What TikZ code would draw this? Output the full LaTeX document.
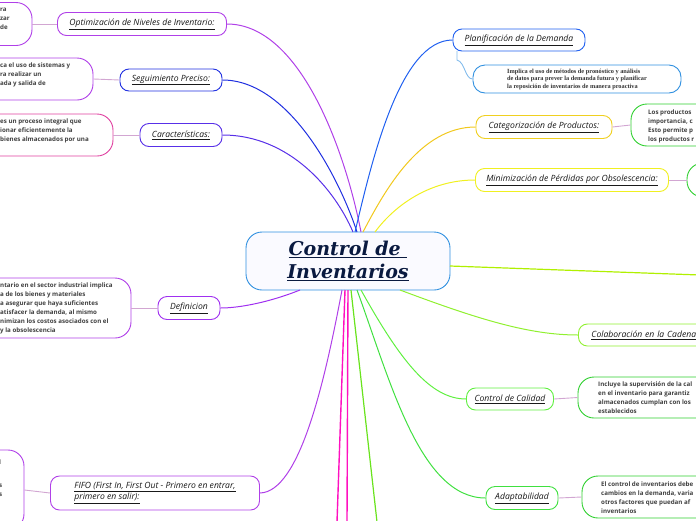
\documentclass[tikz,border=0pt]{standalone}
\usepackage{fontspec}
\setmainfont{Open Sans}
\newfontfamily\serifb{Liberation Serif}
\newfontfamily\titlef{DejaVu Serif}
\begin{document}
\begin{tikzpicture}[x=1pt,y=-1pt,
  lbl/.style={draw,line width=0.9pt,rounded corners=9pt,fill=white,inner sep=0pt,font=\itshape\fontsize{8.6}{10.5}\selectfont,text=black!90},
  det/.style={draw,line width=0.9pt,rounded corners=16pt,fill=white,inner sep=0pt},
  dtxt/.style={anchor=west,inner sep=0pt,font=\bfseries\fontsize{6.2}{9}\selectfont,text=black!75,align=left},
  con/.style={line width=1pt},
  thin/.style={line width=0.9pt,draw=violet!35}]
\useasboundingbox (0,0) rectangle (696,520);
\clip (0,0) rectangle (696,520);
\definecolor{cpur}{HTML}{B040E8}
\definecolor{cblue}{HTML}{2030E0}
\definecolor{cviol}{HTML}{5830E8}
\definecolor{cpur2}{HTML}{A030F0}
\definecolor{cpink}{HTML}{E040A0}
\definecolor{cplan}{HTML}{2060F0}
\definecolor{clblue}{HTML}{3090E0}
\definecolor{cyel1}{HTML}{F0D020}
\definecolor{cyel2}{HTML}{F0F020}
\definecolor{cgreen}{HTML}{30D030}
\definecolor{clime}{HTML}{90F030}
\definecolor{cyg}{HTML}{B0F000}
\definecolor{cg2}{HTML}{60F040}
\definecolor{cg3}{HTML}{40E040}
\definecolor{cmag}{HTML}{FF10C0}
\definecolor{navy}{HTML}{0A1A40}

% central
\node[draw=clblue,line width=0.9pt,rounded corners=16pt,fill=blue!2,minimum width=204pt,minimum height=58pt,align=center,
  font=\titlef\bfseries\itshape\fontsize{19}{23}\selectfont,text=navy] (c) at (348,261) {\underline{Control de }\\\underline{Inventarios}};

% left labels
\node[lbl,draw=cpur,minimum width=169pt,minimum height=23pt] (opt) at (142,24) {\underline{Optimización de Niveles de Inventario:}};
\node[lbl,draw=cblue,minimum width=102pt,minimum height=22pt] (seg) at (171,80) {\underline{Seguimiento Preciso:}};
\node[lbl,draw=cviol,minimum width=82pt,minimum height=23pt] (car) at (181,135) {\underline{Características:}};
\node[lbl,draw=cpur2,minimum width=62pt,minimum height=23pt] (def) at (189,308) {\underline{Definicion}};
\node[lbl,draw=cpur,minimum width=209pt,minimum height=34pt,align=left] (fifo) at (155,493) {\underline{FIFO (First In, First Out - Primero en entrar,}\\\underline{primero en salir):}};

% left details
\node[det,draw=cpur,minimum width=92pt,minimum height=43pt] (dopt) at (-14,24) {};
\node[dtxt] at (0,19) {ra\\zar\\de};
\node[det,draw=cpur,minimum width=153pt,minimum height=42pt] (dseg) at (16.5,79) {};
\node[dtxt] at (0,75) {ca el uso de sistemas y\\ra realizar un\\ada y salida de};
\node[det,draw=cpink,minimum width=173pt,minimum height=42pt] (dcar) at (26.5,135) {};
\node[dtxt] at (0,131) {es un proceso integral que\\ionar eficientemente la\\bienes almacenados por una};
\node[det,draw=cpur,minimum width=191pt,minimum height=60pt] (ddef) at (35.5,308) {};
\node[dtxt] at (0,308.5) {ntario en el sector industrial implica\\a de los bienes y materiales\\a asegurar que haya suficientes\\atisfacer la demanda, al mismo\\nimizan los costos asociados con el\\y la obsolescencia};
\node[det,draw=cpur,minimum width=84pt,minimum height=80pt] (dfifo) at (-18,490) {};
\node[dtxt] at (-1,462) {l};
\node[dtxt] at (-1,490) {s\\s};

% right labels
\node[lbl,draw=cplan,minimum width=132pt,minimum height=22pt] (plan) at (519,40) {\underline{Planificación de la Demanda}};
\node[lbl,draw=cyel1,minimum width=136pt,minimum height=23pt] (cat) at (544,127) {\underline{Categorización de Productos:}};
\node[lbl,draw=cyel2,minimum width=193pt,minimum height=23pt] (min) at (572,180) {\underline{Minimización de Pérdidas por Obsolescencia:}};
\node[lbl,draw=clime,minimum width=200pt,minimum height=22pt,anchor=west,text width=190pt,align=left] (col) at (578,335) {\hspace*{8pt}\underline{Colaboración en la Cadena de Suministro}};
\node[lbl,draw=cg2,minimum width=87pt,minimum height=22pt] (cal) at (510,399) {\underline{Control de Calidad}};
\node[lbl,draw=cg3,minimum width=72pt,minimum height=23pt] (ada) at (522,498) {\underline{Adaptabilidad}};
\coordinate (yg) at (700,275);

% right details
\node[det,draw=clblue,rounded corners=12pt,minimum width=208pt,minimum height=28pt,align=left,
  font=\serifb\bfseries\fontsize{6.3}{7.5}\selectfont,text=black!80] (dplan) at (577,79)
  {Implica el uso de métodos de pronóstico y análisis\\de datos para prever la demanda futura y planificar\\la reposición de inventarios de manera proactiva};
\node[det,draw=cgreen,minimum width=150pt,minimum height=42pt] (dcat) at (706,125) {};
\node[dtxt] at (648,126.5) {Los productos\\importancia, c\\Esto permite p\\los productos r};
\node[det,draw=cgreen,minimum width=150pt,minimum height=34pt] (dmin) at (762,180) {};
\node[det,draw=cgreen,minimum width=180pt,minimum height=41pt] (dcal) at (668,397.5) {};
\node[dtxt] at (598,397.5) {Incluye la supervisión de la cal\\en el inventario para garantiz\\almacenados cumplan con los\\establecidos};
\node[det,draw=cgreen,minimum width=180pt,minimum height=42pt] (dada) at (672,497) {};
\node[dtxt] at (601,497.5) {El control de inventarios debe\\cambios en la demanda, varia\\otros factores que puedan af\\inventarios};

\coordinate (b1) at (337,522);
\coordinate (b2) at (347,522);
\coordinate (b3) at (377,522);

\draw[con,cpur] (opt.east) .. controls (300,24) and (345,150) .. (361,232);
\draw[con,cblue] (seg.east) .. controls (290,80) and (340,180) .. (357,232);
\draw[con,cviol] (car.east) .. controls (290,135) and (335,190) .. (353,232);
\draw[con,cplan] (plan.west) .. controls (400,40) and (372,160) .. (355,232);
\draw[con,cyel1!90!orange] (cat.west) .. controls (420,127) and (385,190) .. (363,232);
\draw[con,cyel2] (min.west) .. controls (430,180) and (395,205) .. (375,232);
\draw[con,cyg,line width=1.2pt] (450,266) -- (yg);
\draw[con,clime] (400,290) .. controls (480,320) and (530,335) .. (col.west);
\draw[con,cg2] (361,290) .. controls (400,360) and (430,399) .. (cal.west);
\draw[con,cg3] (357,290) .. controls (390,380) and (420,498) .. (ada.west);
\draw[con,cpur2] (300,290) .. controls (270,302) and (240,308) .. (def.east);
\draw[con,cpur] (342,290) .. controls (325,380) and (300,492) .. (fifo.east);
\draw[con,cmag,line width=1.4pt] (345,290) -- (b1);
\draw[con,cmag,line width=1.4pt] (348,290) -- (b2);
\draw[con,cgreen!60!lime,line width=1.2pt] (351,290) -- (b3);
\draw[thin] (dopt.east) -- (opt.west);
\draw[thin] (dseg.east) -- (seg.west);
\draw[thin] (dcar.east) -- (car.west);
\draw[thin] (ddef.east) -- (def.west);
\draw[thin] (dfifo.east) -- (fifo.west);
\draw[thin] (cat.east) -- (dcat.west);
\draw[thin] (min.east) -- (dmin.west);
\draw[thin] (cal.east) -- (dcal.west);
\draw[thin] (ada.east) -- (dada.west);
\draw[line width=0.9pt,clblue!60] (457,51) -- (457,60) .. controls (465,62) and (465,79) .. (dplan.west);
\end{tikzpicture}
\end{document}
